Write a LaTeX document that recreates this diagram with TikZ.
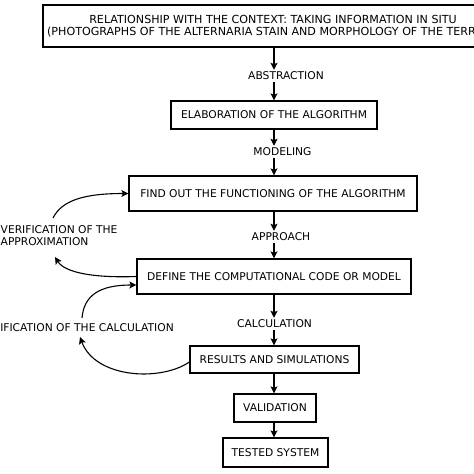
\documentclass[tikz,border=0pt]{standalone}
\usepackage{fontspec}
\setmainfont{DejaVu Sans}
\usetikzlibrary{arrows.meta}
\newcommand\dgfont{\fontsize{10.7}{12.5}\selectfont}
\newcommand\dgtopfont{\fontsize{11.1}{12.5}\selectfont}
\begin{document}
\begin{tikzpicture}[x=1pt,y=-1pt,
  box/.style={draw,line width=1.2pt,inner sep=0pt,align=center,font=\dgfont},
  lab/.style={inner sep=2pt,font=\dgfont},
  side/.style={inner sep=0pt,font=\dgfont,align=left},
  arr/.style={line width=1.1pt,-{Stealth[length=7pt,width=7pt,inset=1.5pt]}}]
\useasboundingbox (0,0) rectangle (474,474);
\fill[white] (0,0) rectangle (474,474);
\clip (0,0) rectangle (474,474);
\coordinate (col) at (274,0);
% boxes
\node[box,font=\dgtopfont,minimum width=460pt,minimum height=42pt] (ctx) at (273,26)
  {RELATIONSHIP WITH THE CONTEXT: TAKING INFORMATION IN SITU\\(PHOTOGRAPHS OF THE ALTERNARIA STAIN AND MORPHOLOGY OF THE TERRAIN)};
\node[box,minimum width=206pt,minimum height=28pt] (elab) at (274,115) {ELABORATION OF THE ALGORITHM};
\node[box,minimum width=288pt,minimum height=35pt] (find) at (273,193.5) {FIND OUT THE FUNCTIONING OF THE ALGORITHM};
\node[box,minimum width=274pt,minimum height=35pt] (define) at (274,276.5) {DEFINE THE COMPUTATIONAL CODE OR MODEL};
\node[box,minimum width=169pt,minimum height=27pt] (results) at (274.5,359.5) {RESULTS AND SIMULATIONS};
\node[box,minimum width=82pt,minimum height=28pt] (valid) at (275,408) {VALIDATION};
\node[box,minimum width=105pt,minimum height=29pt] (tested) at (275.5,452.5) {TESTED SYSTEM};
% labels
\node[lab] (abs) at (286,76) {ABSTRACTION};
\node[lab] (model) at (282.5,152) {MODELING};
\node[lab] (appr) at (281,237) {APPROACH};
\node[lab] (calc) at (274.5,324) {CALCULATION};
\node[side,anchor=west] (verapp) at (0.5,235.5) {VERIFICATION OF THE\\APPROXIMATION};
\node[side,anchor=east] (vercalc) at (174,328) {VERIFICATION OF THE CALCULATION};
% vertical arrows
\draw[arr] (ctx.south -| col) -- (abs.north -| col);
\draw[arr] (abs.south -| col) -- (elab.north -| col);
\draw[arr] (elab.south -| col) -- (model.north -| col);
\draw[arr] (model.south -| col) -- (find.north -| col);
\draw[arr] (find.south -| col) -- (appr.north -| col);
\draw[arr] (appr.south -| col) -- (define.north -| col);
\draw[arr] (define.south -| col) -- (calc.north -| col);
\draw[arr] (calc.south -| col) -- (results.north -| col);
\draw[arr] (results.south -| col) -- (valid.north -| col);
\draw[arr] (valid.south -| col) -- (tested.north -| col);
% feedback curves
\coordinate (c1) at (53,218);
\coordinate (c2) at (55,257);
\coordinate (c3) at (82,318);
\coordinate (c4) at (80,337);
\draw[arr] (c1) .. controls (62,200) and (85,193.5) .. (find.west);
\draw[arr] (define.west) .. controls (95,278) and (65,273) .. (c2);
\draw[arr] (c3) .. controls (84,295) and (100,285) .. ([yshift=-8.5pt]define.west);
\draw[arr] ([yshift=-2.5pt]results.west) .. controls (160,382) and (95,378) .. (c4);
\end{tikzpicture}
\end{document}
